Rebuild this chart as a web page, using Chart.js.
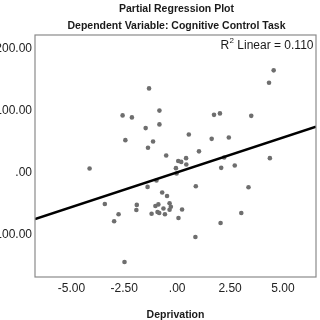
<!DOCTYPE html>
<html>
<head>
<meta charset="utf-8">
<script src="https://cdn.jsdelivr.net/npm/chart.js@4"></script>
<style>
  html, body { margin: 0; padding: 0; background: #fff; overflow: hidden; width: 320px; height: 320px; }
  #wrap { position: absolute; left: -20px; top: 0; width: 340px; height: 320px; }
</style>
</head>
<body>
<div id="wrap"><canvas id="myChart" width="340" height="320"></canvas></div>
<script>
// residuals (Deprivation vs Cognitive Control Task)
let depX = [-1.33, -2.58, -2.14, -0.84, -1.49, -0.84, -2.45, -1.14, -1.38, -4.14,
            -1.40, 4.56, 4.34, 1.74, 2.02, 3.50, 0.55, 1.63, 2.44, 1.03,
            -0.52, 0.05, 0.19, 0.42, 0.43, -0.06, -0.03, 2.22, 2.08, 2.72,
            4.38, 0.88, 3.37, -0.98, -3.42, -2.77, -2.98, -1.91, -1.93, -1.21,
            -1.03, -0.89, -0.93, -0.85, -0.71, -0.48, -0.36, -0.30, -0.65, -0.36,
            -0.58, 0.23, 0.06, 2.05, 3.03, 0.86, -2.49];
let taskY = [136.1, 92.6, 89.4, 100.3, 72.1, 78.1, 52.7, 50.6, 40.6, 7.1,
             -22.6, 165.2, 145.2, 93.5, 95.8, 91.9, 61.9, 54.8, 57.1, 34.7,
             28.1, 19.2, 17.7, 23.7, 13.5, 7.6, -1.0, 24.8, 8.1, 11.9,
             23.7, -21.5, -23.1, -12.3, -50.0, -66.6, -77.9, -51.6, -59.8, -65.8,
             -53.4, -50.8, -63.1, -64.7, -31.6, -37.3, -48.9, -54.5, -57.3, -59.4,
             -66.6, -59.0, -72.7, -80.6, -64.5, -103.2, -143.5];

// fit line end points
let fitX = [-6.72, 6.56];
let fitY = [-74.5, 74.5];

let xTicks = [-5, -2.5, 0, 2.5, 5];
let yTicks = [-100, 0, 100, 200];

let title1 = "Partial Regression Plot";
let title2 = "Dependent Variable: Cognitive Control Task";
let rLabel = " Linear = 0.110";

function fmt(v) {
    if (v === 0) return ".00";
    return v.toFixed(2);
}

let framePlugin = {
    id: "frame",
    afterDraw(chart) {
        let ctx = chart.ctx;
        let a = chart.chartArea;
        ctx.save();
        ctx.strokeStyle = "#8a8a8a";
        ctx.lineWidth = 1.2;
        ctx.strokeRect(a.left, a.top, a.right - a.left, a.bottom - a.top);

        let cx = (a.left + a.right) / 2 + 1;
        ctx.fillStyle = "#1a1a1a";
        ctx.textAlign = "center";
        ctx.textBaseline = "middle";
        ctx.font = "bold 10.5px 'Liberation Sans'";
        ctx.fillText(title1, cx, 9.5);
        ctx.fillText(title2, cx, 26.5);

        // R² Linear label, right aligned inside the box
        ctx.font = "12px 'Liberation Sans'";
        let wRest = ctx.measureText(rLabel).width;
        ctx.font = "8px 'Liberation Sans'";
        let wSup = ctx.measureText("2").width;
        ctx.font = "12px 'Liberation Sans'";
        let wR = ctx.measureText("R").width;
        let right = a.right - 3;
        let x0 = right - wRest - wSup - wR;
        ctx.textAlign = "left";
        ctx.fillText("R", x0, 45.5);
        ctx.font = "8px 'Liberation Sans'";
        ctx.fillText("2", x0 + wR + 0.5, 41);
        ctx.font = "12px 'Liberation Sans'";
        ctx.fillText(rLabel, x0 + wR + wSup + 0.5, 45.5);
        ctx.restore();
    }
};

let myChart = document.getElementById("myChart").getContext("2d");

let plot = new Chart(myChart, {
    type: "scatter",
    data: {
        datasets: [{
            label: "Residuals",
            data: depX.map((x, i) => ({ x: x, y: taskY[i] })),
            backgroundColor: "#6e6e6e",
            borderWidth: 0,
            pointRadius: 2.3,
            order: 2
        }, {
            type: "line",
            label: "Fit",
            data: fitX.map((x, i) => ({ x: x, y: fitY[i] })),
            borderColor: "#000",
            borderWidth: 2.6,
            pointRadius: 0,
            fill: false,
            order: 1
        }]
    },
    options: {
        responsive: false,
        animation: false,
        devicePixelRatio: 1,
        layout: { padding: { top: 35, right: 1, left: 0, bottom: 0 } },
        plugins: {
            legend: { display: false },
            tooltip: { enabled: false }
        },
        scales: {
            x: {
                type: "linear",
                min: fitX[0],
                max: fitX[1],
                grid: { display: false, drawTicks: false },
                border: { display: false },
                afterBuildTicks: s => { s.ticks = xTicks.map(v => ({ value: v })); },
                afterFit: s => { s.height = 43; },
                ticks: {
                    padding: 4,
                    color: "#222",
                    font: { family: "Liberation Sans", size: 12 },
                    maxRotation: 0,
                    callback: v => fmt(v)
                },
                title: {
                    display: true,
                    text: "Deprivation",
                    color: "#1a1a1a",
                    padding: 0,
                    font: { family: "Liberation Sans", size: 10.5, weight: "bold", lineHeight: 1 }
                }
            },
            y: {
                type: "linear",
                min: -167.7,
                max: 222.1,
                grid: { display: false, drawTicks: false },
                border: { display: false },
                afterBuildTicks: s => { s.ticks = yTicks.map(v => ({ value: v })); },
                afterFit: s => { s.width = 55; },
                ticks: {
                    padding: 3,
                    color: "#222",
                    font: { family: "Liberation Sans", size: 12 },
                    callback: v => fmt(v)
                }
            }
        }
    },
    plugins: [framePlugin]
});
</script>
</body>
</html>
